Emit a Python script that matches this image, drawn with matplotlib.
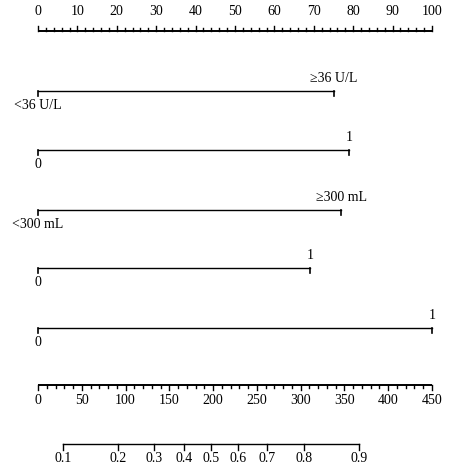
import matplotlib
matplotlib.use("Agg")
import matplotlib.pyplot as plt
import numpy as np

plt.rcParams['font.family'] = ['Liberation Serif', 'DejaVu Serif']

point_ticks = [0, 10, 20, 30, 40, 50, 60, 70, 80, 90, 100]
var_low_labels = ["<36 U/L", "0", "<300 mL", "0", "0"]
var_high_labels = ["\u226536 U/L", "1", "\u2265300 mL", "1", "1"]
var_points = [75, 79, 77, 69, 100]
var_y = [91, 150, 210, 268, 328]
total_ticks = [0, 50, 100, 150, 200, 250, 300, 350, 400, 450]
prob_labels = ["0.1", "0.2", "0.3", "0.4", "0.5", "0.6", "0.7", "0.8", "0.9"]
prob_total = [28.6, 91.4, 132.5, 166.8, 197.6, 228.5, 261.6, 303.9, 366.7]

fig = plt.figure(figsize=(4.74, 4.67), dpi=100)
ax = fig.add_axes([0, 0, 1, 1])
ax.set_xlim(-38/3.94, (474-38)/3.94)
ax.set_ylim(467, 0)
ax.axis('off')
fs = 10
lw = 1.4
k = dict(color='black', lw=lw, solid_capstyle='butt')

# Points axis
y0 = 31
ax.plot([0, 100], [y0, y0], **k)
for v in np.arange(0, 101, 2):
    ax.plot([v, v], [y0, y0 - (5 if v % 10 == 0 else 3)], color='black', lw=1.0)
for v in point_ticks:
    ax.text(v, y0 - 13, str(v), ha='center', va='bottom', fontsize=fs)

# Variable lines
for lo, hi, p, y in zip(var_low_labels, var_high_labels, var_points, var_y):
    ax.plot([0, p], [y, y], color='black', lw=1.0)
    ax.plot([0, 0], [y, y + 5], color='black', lw=1.2)
    ax.plot([p, p], [y, y + 5], color='black', lw=1.2)
    ax.text(0, y + 8, lo, ha='center', va='top', fontsize=fs)
    ax.text(p, y - 6, hi, ha='center', va='bottom', fontsize=fs)

# Total points
scale = 100 / 450
y1 = 385
ax.plot([0, 100], [y1, y1], **k)
for v in np.arange(0, 451, 10):
    ax.plot([v*scale]*2, [y1, y1 + (5 if v % 50 == 0 else 3)], color='black', lw=1.0)
for v in total_ticks:
    ax.text(v*scale, y1 + 9, str(v), ha='center', va='top', fontsize=fs)

# Probability
y2 = 444
ax.plot([prob_total[0]*scale, prob_total[-1]*scale], [y2, y2], color='black', lw=1.0)
for lab, v in zip(prob_labels, prob_total):
    ax.plot([v*scale]*2, [y2, y2 + 6], color='black', lw=1.0)
    ax.text(v*scale, y2 + 8, lab, ha='center', va='top', fontsize=fs)

fig.savefig('out.png', dpi=100)
